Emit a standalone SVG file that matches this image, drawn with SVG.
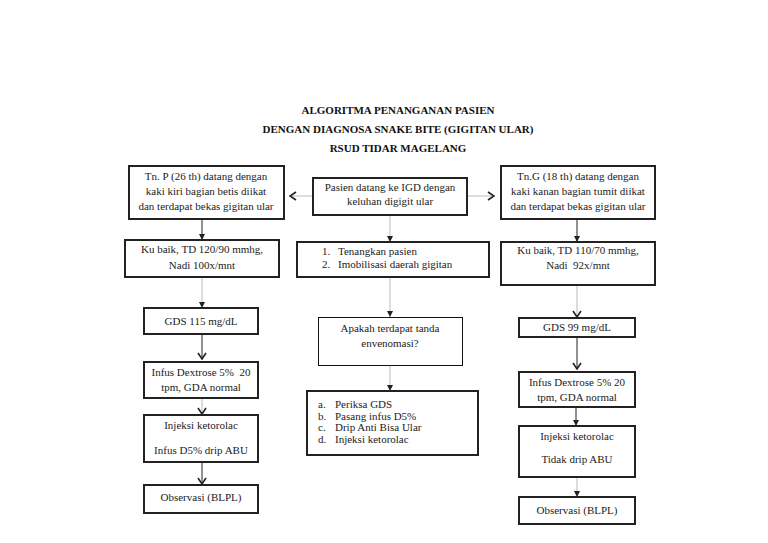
<svg xmlns="http://www.w3.org/2000/svg" width="768" height="543" viewBox="0 0 768 543" font-family="Liberation Serif, serif">
<style>
text{font-family:'Liberation Serif',serif;font-size:11px;fill:#222;}
.t{font-weight:bold;font-size:11px;text-anchor:middle;fill:#111;}
.c{text-anchor:middle;}
.box{fill:#fff;stroke:#222;stroke-width:2;}
.thin{fill:#fff;stroke:#111;stroke-width:1;}
.g{stroke:#aaa;stroke-width:0.8;fill:none;}
.k{stroke:#222;stroke-width:1;fill:none;}
</style>
<defs>
<marker id="tri" viewBox="0 0 6 6" refX="6" refY="3" markerWidth="6" markerHeight="6" markerUnits="userSpaceOnUse" orient="auto">
<path d="M0,0 L6,3 L0,6 Z" fill="#222"/>
</marker>
<marker id="vee" viewBox="0 0 8 10" refX="7" refY="5" markerWidth="8" markerHeight="10" markerUnits="userSpaceOnUse" orient="auto">
<path d="M1,1 L7,5 L1,9" fill="none" stroke="#222" stroke-width="1.6"/>
</marker>
</defs>
<rect width="768" height="543" fill="#fff"/>
<g id="title">
<text class="t" x="398" y="114">ALGORITMA PENANGANAN PASIEN</text>
<text class="t" x="398" y="133">DENGAN DIAGNOSA SNAKE BITE (GIGITAN ULAR)</text>
<text class="t" x="398" y="152">RSUD TIDAR MAGELANG</text>
</g>
<g id="connectors">
<line class="g" x1="313" y1="196" x2="290" y2="196" marker-end="url(#vee)"/>
<line class="g" x1="467" y1="196" x2="494" y2="196" marker-end="url(#vee)"/>
<line class="k" x1="202" y1="219" x2="202" y2="240" marker-end="url(#tri)"/>
<line class="g" x1="390" y1="215" x2="390" y2="242" marker-end="url(#tri)"/>
<line class="k" x1="577" y1="219" x2="577" y2="242" marker-end="url(#tri)"/>
<line class="g" x1="202" y1="277" x2="202" y2="308" marker-end="url(#tri)"/>
<line class="g" x1="390" y1="277" x2="390" y2="317" marker-end="url(#tri)"/>
<line class="g" x1="577" y1="285" x2="577" y2="317" marker-end="url(#vee)"/>
<line class="k" x1="202" y1="334" x2="202" y2="359" marker-end="url(#vee)"/>
<line class="g" x1="390" y1="365" x2="390" y2="391" marker-end="url(#tri)"/>
<line class="k" x1="577" y1="337" x2="577" y2="369" marker-end="url(#vee)"/>
<line class="g" x1="202" y1="398" x2="202" y2="414" marker-end="url(#vee)"/>
<line class="k" x1="576" y1="407" x2="576" y2="426" marker-end="url(#tri)"/>
<line class="k" x1="202" y1="462" x2="202" y2="484" marker-end="url(#vee)"/>
<line class="g" x1="577" y1="477" x2="577" y2="497" marker-end="url(#tri)"/>
</g>
<g id="n-left1">
<rect class="box" x="129" y="166" width="155" height="53"/>
<text class="c" x="206" y="180">Tn. P (26 th) datang dengan</text>
<text class="c" x="206" y="195">kaki kiri bagian betis diikat</text>
<text class="c" x="206" y="210">dan terdapat bekas gigitan ular</text>
</g>
<g id="n-center1">
<rect class="box" x="313" y="178" width="154" height="37"/>
<text class="c" x="390" y="191">Pasien datang ke IGD dengan</text>
<text class="c" x="390" y="205">keluhan digigit ular</text>
</g>
<g id="n-right1">
<rect class="box" x="501" y="166" width="154" height="53"/>
<text class="c" x="578" y="180">Tn.G (18 th) datang dengan</text>
<text class="c" x="578" y="195">kaki kanan bagian tumit diikat</text>
<text class="c" x="578" y="210">dan terdapat bekas gigitan ular</text>
</g>
<g id="n-left2">
<rect class="box" x="125" y="240" width="154" height="37"/>
<text class="c" x="202" y="253">Ku baik, TD 120/90 mmhg,</text>
<text class="c" x="202" y="269">Nadi 100x/mnt</text>
</g>
<g id="n-center2">
<rect class="box" x="297" y="242" width="192" height="35"/>
<text x="322" y="255">1.</text>
<text x="338" y="255">Tenangkan pasien</text>
<text x="322" y="268">2.</text>
<text x="338" y="268">Imobilisasi daerah gigitan</text>
</g>
<g id="n-right2">
<rect class="box" x="501" y="242" width="154" height="43"/>
<text class="c" x="578" y="254">Ku baik, TD 110/70 mmhg,</text>
<text class="c" x="578" y="269" xml:space="preserve">Nadi  92x/mnt</text>
</g>
<g id="n-left3">
<rect class="box" x="144" y="308" width="114" height="26"/>
<text class="c" x="201" y="325">GDS 115 mg/dL</text>
</g>
<g id="n-center3">
<rect class="thin" x="318.5" y="317.5" width="144" height="48"/>
<text class="c" x="390" y="332">Apakah terdapat tanda</text>
<text class="c" x="390" y="347">envenomasi?</text>
</g>
<g id="n-right3">
<rect class="box" x="519" y="318" width="116" height="19"/>
<text class="c" x="577" y="331">GDS 99 mg/dL</text>
</g>
<g id="n-left4">
<rect class="box" x="144" y="362" width="114" height="36"/>
<text class="c" x="201" y="376" xml:space="preserve">Infus Dextrose 5%  20</text>
<text class="c" x="201" y="391">tpm, GDA normal</text>
</g>
<g id="n-center4">
<rect class="box" x="307" y="391" width="171" height="64"/>
<text x="318" y="408">a.</text>
<text x="335" y="408">Periksa GDS</text>
<text x="318" y="419.5">b.</text>
<text x="335" y="419.5">Pasang infus D5%</text>
<text x="318" y="431">c.</text>
<text x="335" y="431">Drip Anti Bisa Ular</text>
<text x="318" y="443">d.</text>
<text x="335" y="443">Injeksi ketorolac</text>
</g>
<g id="n-right4">
<rect class="box" x="519" y="372" width="116" height="35"/>
<text class="c" x="577" y="386">Infus Dextrose 5% 20</text>
<text class="c" x="577" y="401">tpm, GDA normal</text>
</g>
<g id="n-left5">
<rect class="box" x="144" y="415" width="114" height="47"/>
<text class="c" x="201" y="429">Injeksi ketorolac</text>
<text class="c" x="201" y="454">Infus D5% drip ABU</text>
</g>
<g id="n-right5">
<rect class="box" x="519" y="426" width="116" height="51"/>
<text class="c" x="577" y="440">Injeksi ketorolac</text>
<text class="c" x="577" y="463">Tidak drip ABU</text>
</g>
<g id="n-left6">
<rect class="box" x="144" y="485" width="114" height="28"/>
<text class="c" x="201" y="501">Observasi (BLPL)</text>
</g>
<g id="n-right6">
<rect class="box" x="519" y="497" width="116" height="27"/>
<text class="c" x="577" y="514">Observasi (BLPL)</text>
</g>
</svg>
